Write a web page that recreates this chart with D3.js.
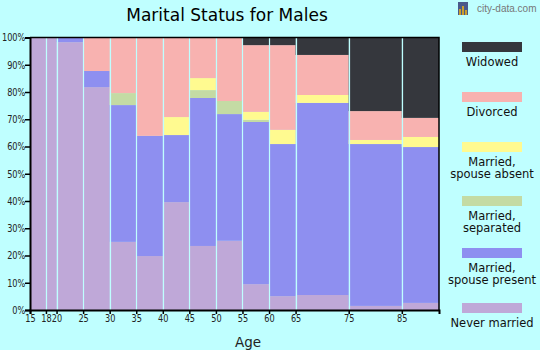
<!DOCTYPE html>
<html><head><meta charset="utf-8">
<script src="https://cdn.jsdelivr.net/npm/d3@7"></script>
<style>
html,body{margin:0;padding:0;background:#bfffff;}
svg{display:block;}
</style></head>
<body>
<svg id="chart" width="540" height="350"></svg>
<script>
const ageStarts = [15,18,20,25,30,35,40,45,50,55,60,65,75,85];
const ageEnd = 92;
const xTickLabels = [15,18,20,25,30,35,40,45,50,55,60,65,75,85];
const yTickValues = [0,10,20,30,40,50,60,70,80,90,100];
const seriesNames = ["Never married","Married, spouse present","Married, separated","Married, spouse absent","Divorced","Widowed"];
const neverMarried   = [100,100,98.3,81.8,25.0,19.8,39.6,23.5,25.4,9.5,5.1,5.5,1.5,2.6];
const spousePresent  = [0,0,1.7,5.9,50.2,44.1,24.6,54.3,46.5,59.5,55.8,70.5,59.4,57.2];
const separated      = [0,0,0,0,4.4,0,0,2.9,4.8,0.8,0,0,0,0];
const spouseAbsent   = [0,0,0,0,0,0,6.6,4.4,0,2.9,5.2,2.9,1.5,3.7];
const divorced       = [0,0,0,12.3,20.4,36.1,29.2,14.9,23.3,24.5,31.1,14.7,10.6,7.0];
const widowed        = [0,0,0,0,0,0,0,0,0,2.8,2.8,6.4,27.0,29.5];
const colors = ["#bfa8d8","#8e8ff0","#c4dba4","#fffa90","#f8b2b0","#35373d"];

const seriesValues = [neverMarried,spousePresent,separated,spouseAbsent,divorced,widowed];
const svg = d3.select("#chart");
const L=30,R=439,T=37.5,B=310;
const x = d3.scaleLinear().domain([15,ageEnd]).range([L,R]);
const y = d3.scaleLinear().domain([0,100]).range([B,T]);

const rows = ageStarts.map((a,i)=>{
  const r={start:a,end:i<ageStarts.length-1?ageStarts[i+1]:ageEnd};
  seriesNames.forEach((s,j)=>r[s]=seriesValues[j][i]);
  return r;
});
const stack = d3.stack().keys(seriesNames)(rows);

const g = svg.append("g");
stack.forEach((layer,j)=>{
  g.selectAll(null).data(layer).enter().append("rect")
    .attr("x",d=>x(d.data.start))
    .attr("width",d=>x(d.data.end)-x(d.data.start))
    .attr("y",d=>y(Math.min(100,d[1])))
    .attr("height",d=>Math.max(0,y(d[0])-y(Math.min(100,d[1]))))
    .attr("fill",colors[j]);
});
// separators
g.selectAll(null).data(ageStarts.slice(1)).enter().append("line")
  .attr("x1",d=>Math.round(x(d))+0.5).attr("x2",d=>Math.round(x(d))+0.5)
  .attr("y1",T).attr("y2",B)
  .attr("stroke","#bfffff").attr("stroke-width",1.2);

// frame
svg.append("path").attr("d",`M${L},${T}H${R}V${B}`).attr("fill","none").attr("stroke","#000").attr("stroke-width",1.5);

const fontTick = "'DejaVu Sans',sans-serif";
const yAxis = svg.append("g").attr("transform",`translate(${L},0)`)
  .call(d3.axisLeft(y).tickValues(yTickValues).tickFormat(d=>d+"%").tickSize(5).tickPadding(1));
const xAxis = svg.append("g").attr("transform",`translate(0,${B})`)
  .call(d3.axisBottom(x).tickValues(xTickLabels).tickFormat(d=>d).tickSize(4).tickPadding(1));
[yAxis,xAxis].forEach(a=>{
  a.select(".domain").attr("stroke","#000").attr("stroke-width",2);
  a.selectAll(".tick line").attr("stroke","#000").attr("stroke-width",1.5);
  a.selectAll("text").attr("fill","#222").style("font-family",fontTick).style("font-size","10.5px")
   .attr("transform","scale(0.78,1)");
});

svg.append("text").attr("x",248).attr("y",347).attr("text-anchor","middle")
  .style("font-family","'DejaVu Sans',sans-serif").style("font-size","13.5px").attr("fill","#222").text("Age");

svg.append("text").attr("x",227).attr("y",21).attr("text-anchor","middle")
  .style("font-family","'DejaVu Sans',sans-serif").style("font-size","17px").attr("fill","#000").text("Marital Status for Males");

// logo
const logo = svg.append("g");
logo.append("rect").attr("x",458).attr("y",2).attr("width",10).attr("height",13).attr("fill","#4a5a8a");
logo.append("rect").attr("x",459).attr("y",9).attr("width",2).attr("height",6).attr("fill","#c9a030");
logo.append("rect").attr("x",462).attr("y",6).attr("width",2).attr("height",9).attr("fill","#c9a030");
logo.append("rect").attr("x",465).attr("y",10).attr("width",2).attr("height",5).attr("fill","#c9a030");
logo.append("text").attr("x",477).attr("y",12).style("font-family","'Liberation Sans',Arial,sans-serif").style("font-size","10px").attr("fill","#777").text("city-data.com");

// legend
const legendItems = [
  {name:"Widowed", lines:["Widowed"], color:colors[5], ry:42},
  {name:"Divorced", lines:["Divorced"], color:colors[4], ry:92},
  {name:"Married, spouse absent", lines:["Married,","spouse absent"], color:colors[3], ry:142},
  {name:"Married, separated", lines:["Married,","separated"], color:colors[2], ry:196},
  {name:"Married, spouse present", lines:["Married,","spouse present"], color:colors[1], ry:248},
  {name:"Never married", lines:["Never married"], color:colors[0], ry:303}
];
const lg = svg.append("g");
legendItems.forEach(it=>{
  lg.append("rect").attr("x",462).attr("y",it.ry).attr("width",60).attr("height",10).attr("fill",it.color);
  it.lines.forEach((t,k)=>{
    lg.append("text").attr("x",492).attr("y",it.ry+23.5+k*12.5).attr("text-anchor","middle")
      .style("font-family","'DejaVu Sans',sans-serif").style("font-size","11.5px").attr("fill","#111").text(t);
  });
});
</script>
</body></html>
